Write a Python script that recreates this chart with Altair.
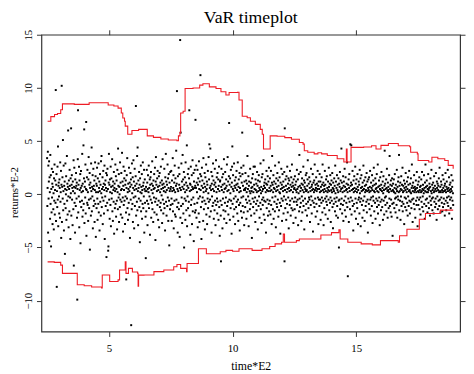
import altair as alt
import pandas as pd

TITLE = "VaR timeplot"
X_TITLE = "time*E2"
Y_TITLE = "returns*E-2"
X_TICKS = [5, 10, 15]
Y_TICKS = [-10, -5, 0, 5, 10, 15]
X_DOMAIN = [2.27, 19.2]
Y_DOMAIN = [-12.9, 15.0]

# time index of the returns (time*E2), one observation per step
TIME_START = 2.5
TIME_STEP = 0.01

# returns*E-2, read segment by segment (one list per unit of time*E2)
R_02 = [3.4, -1.1, 0.6, 4.0, -3.6, 2.7, -0.4, 1.2, 3.1, -4.4,
        1.6, 0.2, -2.3, 3.7, -0.9, 1.8, -4.9, 0.5, -1.7, 2.4,
        -0.3, 1.0, -2.8, 0.7, 2.1, -1.4, 0.1, -3.3, 1.5, -0.6,
        2.8, -1.9, 0.4, 1.3, -0.8, 9.8, -2.5, 0.9, 1.9, -8.7,
        0.3, -1.2, 2.6, -0.5, 4.5, -3.0, 0.8, 1.1, -0.2, -1.8,
        1.4, 0.6, -2.2, 3.0, -0.7, 0.2, 2.2, -4.1, 0.9, 10.2,
        -2.6, 0.7, 1.6, -0.4, 5.1, -1.5, 0.3, 2.7, -3.4, 0.8,
        -0.9, 1.2, -5.6, 0.5, 2.9, -1.3, 0.0, 1.7, -2.4, 0.4,
        3.6, -0.6, 1.0, -1.9, 0.7, 6.0, -0.2, -3.1, 1.3, 0.5,
        -1.6, 2.3, 0.8, -0.3, -4.2, 1.5, 0.1, 6.2, -2.0, 0.9]
R_03 = [1.8, -0.5, 0.6, -2.9, 1.2, 0.3, -1.4, 3.2, -6.7, 0.7,
        2.5, -0.8, 0.1, -3.6, 1.4, 0.6, -1.1, 2.0, 0.8, -0.4,
        1.1, -2.2, -9.9, 0.5, 3.3, 7.9, -1.7, 0.9, -0.2, 2.6,
        -3.1, 1.3, 0.4, -0.7, 1.9, -4.6, 0.6, 2.2, -1.2, 0.2,
        0.8, -0.6, 3.8, -2.1, 1.0, 0.3, -1.5, 4.6, -0.9, 1.5,
        6.1, -2.7, 0.7, 1.2, -0.3, 2.8, -1.8, 0.5, 6.8, -3.9,
        0.4, 1.6, -0.8, 2.3, -1.0, 0.2, -2.5, 1.4, 3.5, -0.5,
        -1.3, 0.9, 2.0, -5.2, 0.6, 1.1, -0.4, -2.0, 2.9, 0.3,
        4.4, -1.6, 0.7, -0.2, 1.8, -3.2, 0.5, 2.4, -1.1, 0.8,
        -0.6, 1.3, -2.6, 0.4, 3.0, -0.9, 1.7, -4.0, 0.2, 1.0]
R_04 = [-1.3, 0.8, 2.5, -0.4, -2.4, 1.5, 0.2, -0.9, 2.9, -1.7,
        0.6, 1.2, -3.4, 0.3, 1.9, -0.7, 0.9, -2.0, 3.1, 0.1,
        3.6, -1.2, 0.5, -0.3, 1.6, -2.8, 0.7, 2.2, -0.6, 1.0,
        -1.8, 0.4, 2.7, -4.2, 0.9, -0.2, 1.3, -1.1, 0.6, 2.0,
        -5.9, 0.3, 1.8, -0.8, 2.4, -1.5, 0.5, -5.3, -4.9, 1.1,
        3.8, -0.5, 0.9, -2.3, 1.4, 0.2, -1.0, 2.6, -3.0, 0.7,
        1.5, -0.4, 0.1, 3.3, -1.6, 0.8, -2.5, 1.2, 0.4, -0.7,
        2.1, -3.7, 0.6, 1.0, -1.3, 0.3, 2.8, -0.9, 1.7, -2.1,
        0.5, 1.3, -0.6, -3.3, 2.3, 0.2, -1.4, 4.3, 0.8, -0.3,
        1.9, -2.6, 0.7, 0.0, -1.2, 3.0, -0.5, 1.1, -1.9, 0.4]
R_05 = [2.0, -0.7, 0.5, 3.9, -2.2, 1.2, -0.3, -3.5, 0.8, 2.6,
        -1.0, 0.4, 1.5, -0.6, 2.2, -2.8, 0.9, -0.2, 1.3, -1.7,
        -8.0, 0.6, 1.8, -0.4, 3.4, -1.3, 0.2, -2.4, 1.0, 0.5,
        -0.8, 2.5, -1.9, 0.3, 1.1, -4.1, 0.7, 2.0, -0.5, 1.4,
        -12.3, 0.9, -1.4, 2.9, 0.1, -0.9, 1.6, -2.6, 0.6, 3.2,
        -0.3, 1.2, -3.2, 0.4, 2.4, -1.1, 0.8, -0.2, 1.7, 8.3,
        -2.0, 0.5, 1.0, -0.7, 3.6, -1.5, 4.4, 0.3, -2.9, 1.3,
        0.6, -0.4, 2.1, -1.2, 0.9, -4.5, 1.5, 0.2, -0.6, 2.7,
        -1.6, 0.7, 0.1, 1.9, -2.3, 0.4, -0.9, 3.0, 0.8, -1.3,
        1.1, -0.2, 2.3, -3.6, 0.5, 1.4, -0.8, 0.3, -2.1, -6.0]
R_06 = [0.7, -1.6, 0.3, 2.3, -0.6, 1.1, -2.9, 0.5, 1.8, -0.9,
        0.2, 2.7, -1.3, 0.6, -0.2, 1.4, -3.8, 0.9, 1.6, -0.5,
        2.1, -2.2, 0.4, 1.0, -0.8, 3.1, -1.4, 0.1, 0.8, -2.6,
        1.3, 0.5, -0.3, 1.9, -1.7, 0.6, 2.5, -0.7, -4.3, 1.2,
        3.5, -0.4, 0.9, -1.9, 0.3, 1.5, -1.0, 2.2, 0.7, -2.4,
        0.4, -0.6, 1.7, -3.1, 0.8, 2.0, -1.2, 0.2, 1.1, -0.8,
        2.6, -1.5, 0.5, -0.1, 1.3, -2.7, 0.9, 3.3, -0.5, 0.6,
        -1.8, 1.0, 0.3, -0.9, 2.4, -1.3, 0.7, -3.4, 1.6, 0.2,
        3.8, -0.7, 1.2, -2.0, 0.4, 0.9, -1.1, 2.8, -0.3, 1.5,
        -2.5, 0.6, 1.9, -0.6, -4.8, 1.1, 0.3, -1.4, 2.1, 0.5]
R_07 = [-1.0, 0.7, 2.2, -0.4, -2.5, 1.3, 0.3, -0.9, 3.4, -1.6,
        0.6, 1.8, -3.2, 0.4, 1.1, -0.6, 2.7, -1.9, 0.2, 1.5,
        -2.1, 0.8, 4.1, -0.5, 1.0, 9.7, -1.2, 0.5, -3.6, 1.7,
        0.3, -0.8, 2.5, -1.4, 0.9, 1.9, -4.0, 0.6, 14.5, -2.2,
        5.8, 0.4, -1.1, 2.9, -0.3, 1.2, -2.7, 0.7, 3.7, -0.9,
        1.4, -1.8, 0.5, 2.1, -5.0, 0.9, -0.4, 1.6, 0.2, -2.4,
        3.0, -0.6, 1.1, -1.5, 0.4, 4.6, -3.0, 0.8, -0.2, 1.9,
        -1.3, 0.6, 2.4, -0.7, 1.5, 7.9, -2.0, 0.3, 1.0, -3.8,
        0.9, 2.6, -1.0, 0.4, -0.5, 1.8, -2.8, 0.7, 3.2, -1.6,
        0.5, -0.3, 2.0, -4.4, 1.2, 0.6, -0.9, 2.3, -1.7, 0.8]
R_08 = [7.0, -1.5, 0.6, 2.7, -2.2, 1.1, 0.2, -0.8, 2.3, -3.1,
        0.9, 1.5, -0.4, -1.8, 3.1, 0.5, -2.6, 1.2, -0.2, 1.9,
        11.2, 0.4, -1.2, 1.7, -4.2, 0.8, 2.5, -0.7, 1.3, -0.3,
        0.6, -2.5, 3.4, 0.2, -1.4, 1.0, -0.6, 2.0, -3.3, 0.7,
        1.6, -0.9, 0.3, 2.8, -1.9, 0.5, 1.2, -2.8, 0.9, -0.4,
        2.2, -1.3, 0.1, 3.5, -0.7, 1.4, 4.7, -2.1, 0.6, -0.5,
        4.3, 0.8, -1.6, 0.4, 2.1, -3.6, 1.0, -0.2, 1.7, -1.1,
        0.5, 2.9, -0.8, 1.3, -2.3, 0.3, 0.9, -1.5, 2.4, -0.6,
        1.1, -2.9, 0.7, 3.2, -1.0, 0.2, 1.6, -0.4, -1.8, 2.0,
        -0.7, 0.5, 1.4, -2.4, 0.8, 2.6, -1.2, 0.3, -3.9, 1.2]
R_09 = [1.3, -0.6, -2.0, -6.3, 0.7, 2.4, -1.0, 0.4, 1.6, -3.2,
        0.9, -0.4, 1.9, -1.5, 0.2, 3.3, -2.3, 1.0, 0.5, -0.8,
        2.1, -1.6, 0.6, -0.3, 1.4, -2.7, 0.8, 2.8, -1.1, 0.3,
        3.5, -0.7, 1.2, -1.9, 0.4, 1.7, 6.7, -0.5, 0.9, -2.4,
        1.5, 0.1, -1.3, 2.3, -0.6, 0.7, -3.7, 1.1, 2.6, 4.5,
        -0.9, 0.5, 1.8, -2.1, 0.3, -0.4, 2.9, -1.4, 0.8, 1.3,
        -2.8, 0.6, -0.2, 1.6, -1.2, 0.9, 2.2, -0.7, 0.4, -1.8,
        1.0, 3.0, -0.5, -2.5, 0.7, 1.4, -1.0, 0.2, 2.0, -3.4,
        0.6, -0.8, 1.7, 0.3, -1.6, 2.5, -0.3, 1.1, -2.2, 5.8,
        1.9, -1.1, 0.8, -0.2, 2.7, -1.7, 0.4, -2.9, 1.2, 0.5]
R_10 = [0.4, -1.2, 2.0, 0.6, -0.5, 1.3, -2.3, 0.2, 1.0, -0.8,
        3.6, -1.6, 0.5, -0.2, 1.7, -3.0, 0.8, 1.2, -0.6, 0.3,
        -1.4, 2.4, 0.1, -0.9, 1.1, -2.0, 0.6, 0.3, -4.1, 1.5,
        0.7, -0.4, 1.9, -1.2, 0.2, 2.6, -0.7, 0.9, -1.8, 0.5,
        2.6, -0.3, -2.6, 1.4, 0.4, -0.9, 1.0, -1.5, 0.2, 2.1,
        -0.6, 0.8, -3.3, 1.3, 0.3, -1.1, 1.8, -0.2, 0.6, -2.2,
        1.2, 0.4, -0.8, 2.9, -1.4, 0.1, 0.7, -2.7, 1.6, -0.5,
        0.3, 1.9, -1.0, 0.5, -0.3, 3.2, -1.9, 0.8, -0.6, 1.1,
        -2.4, 0.6, 1.4, -0.7, 0.2, -3.6, 1.0, 2.2, -1.3, 0.4,
        0.9, -0.5, 1.7, -2.0, 0.3, 1.2, -0.9, 2.5, -1.6, 0.6]
R_11 = [-0.6, 1.5, 0.3, -1.9, 0.8, 2.2, -1.0, 0.4, -2.8, 1.1,
        3.6, -0.3, 0.9, -1.4, 0.2, 1.8, -2.3, 0.6, 1.2, -0.7,
        0.5, -1.6, 2.7, -0.2, 1.0, -3.1, 0.3, 1.5, -0.9, 0.7,
        -1.2, 2.0, 0.4, -0.5, 1.3, -2.1, 0.8, 3.0, -1.5, 0.2,
        1.6, -0.8, 0.1, -3.7, 1.1, 0.5, -1.1, 2.4, -0.4, 0.9,
        -2.5, 0.6, 1.9, -0.6, 0.3, 1.2, -1.8, 0.7, -0.2, 2.1,
        -6.3, 6.2, 0.4, -1.3, 1.4, -0.5, 0.8, -2.4, 1.7, 0.2,
        -0.9, 2.6, 0.5, -1.7, 1.0, -0.3, 1.5, -3.2, 0.6, 1.3,
        0.3, -1.0, 2.2, -0.6, 0.9, -2.0, 0.4, 1.6, -1.3, 0.7,
        2.8, -0.4, 1.1, -1.5, 0.2, 0.8, -2.7, 1.4, -0.7, 0.5]
R_12 = [0.6, -1.4, 1.7, -0.3, 0.9, -2.2, 0.4, 1.2, -0.7, 0.2,
        2.3, -1.0, 0.5, -0.5, 1.4, -2.9, 0.7, 0.1, 1.9, -1.6,
        3.7, -0.4, 0.8, -1.2, 0.3, 2.1, -0.8, 0.6, -2.5, 1.0,
        -0.2, 1.5, -1.7, 0.4, 0.9, -0.6, 2.6, -1.1, 0.2, 1.3,
        -3.3, 0.7, 1.1, -0.4, 0.5, -1.5, 1.8, 0.3, -0.9, 2.0,
        0.4, -2.0, 0.8, 1.4, 3.2, -0.7, 0.2, -1.3, 1.0, -0.3,
        1.6, -0.5, 0.6, -2.6, 1.2, 0.3, -1.0, 2.4, -0.2, 0.7,
        -1.8, 0.9, 0.4, -0.6, 1.9, -3.5, 0.5, 1.1, -0.8, 0.2,
        1.3, -1.2, 2.8, 0.4, -0.4, 0.9, -2.1, 0.6, 1.6, -0.9,
        0.3, 1.0, -1.6, 0.5, 2.2, -0.3, 0.8, -2.8, 1.2, -0.5]
R_13 = [0.5, -1.1, 1.9, 0.2, -0.5, 1.2, -2.4, 0.7, 0.3, -0.8,
        1.6, -0.3, 0.9, -1.7, 2.8, 0.4, -0.6, 1.1, -2.9, 0.2,
        0.8, -1.3, 0.5, 2.2, -0.4, 0.9, -1.9, 0.3, 1.4, -0.7,
        -0.2, 1.7, -1.0, 0.6, 0.2, -2.3, 1.2, 0.4, -0.5, 2.5,
        0.7, -1.5, 0.3, 1.0, -0.8, 1.8, -0.3, -2.6, 0.9, 0.4,
        1.3, -0.6, 0.2, 2.0, -1.2, 0.6, -3.2, 1.1, 0.5, -0.9,
        0.3, 1.5, -0.4, 0.8, -1.6, 2.7, 0.1, -0.7, 1.2, -2.0,
        0.6, -0.3, 1.8, -1.1, 0.4, 0.9, -2.2, 0.2, 1.5, -0.6,
        -5.0, 1.0, -0.5, 0.7, 2.1, -1.4, 0.3, 1.3, -0.9, 0.5,
        4.3, -0.4, 1.1, -1.8, 0.6, 0.2, -1.0, 1.7, -2.5, 0.8]
R_14 = [1.2, -0.6, 0.3, 2.4, -1.5, 0.7, -0.2, 1.6, -2.1, 0.4,
        -0.8, 1.0, 0.5, 3.0, -1.2, 0.2, -7.7, 0.9, -0.4, 1.4,
        -2.6, 0.6, 1.9, -0.7, 0.3, -1.4, 4.7, 0.8, -0.3, 1.1,
        4.6, -1.9, 0.4, 0.9, -0.6, 2.2, -1.1, 0.5, -3.4, 1.3,
        0.2, -0.9, 1.7, 0.6, -1.6, 0.3, 2.6, -0.4, 1.0, -2.3,
        0.5, 1.4, -0.8, 0.2, -1.3, 1.9, 0.7, -2.8, 0.4, -0.5,
        1.2, -0.3, 0.9, -1.8, 2.3, 0.1, -0.7, 1.5, -3.0, 0.6,
        -0.4, 1.8, 0.3, -1.0, 0.7, -2.2, 1.1, 0.4, -0.6, 2.7,
        -1.5, 0.5, 1.3, -0.2, -2.5, 0.8, 0.2, 1.6, -1.1, 0.4,
        0.9, -0.7, 2.0, -1.7, 0.3, 1.2, -0.5, -3.6, 0.6, 1.4]
R_15 = [0.4, -0.9, 1.6, 0.2, -1.4, 0.7, 2.2, -0.5, 0.3, -2.0,
        1.1, -0.3, 0.6, -1.1, 1.8, 0.4, -2.7, 0.8, -0.2, 1.3,
        -0.6, 2.5, 0.3, -1.6, 0.9, 0.2, -0.8, 1.5, -2.3, 0.5,
        1.0, -0.4, 0.6, 1.9, -1.2, 0.3, -0.6, 2.8, -1.8, 0.7,
        0.2, -1.0, 1.3, -0.3, 0.8, -2.9, 0.5, 1.6, -0.7, 0.4,
        -1.5, 0.9, 2.1, -0.5, 0.3, -1.2, 0.6, 1.2, -2.4, 0.1,
        1.7, -0.6, 0.4, -1.9, 0.8, 4.1, -0.3, 1.0, -1.0, 0.5,
        -0.2, 1.4, -1.6, 0.6, 2.4, -0.8, 0.3, -2.2, 1.1, 0.4,
        0.7, -1.3, 0.2, 1.8, -0.4, 3.6, -1.1, 0.5, 0.9, -1.7,
        1.3, -0.5, 0.3, -2.1, 0.8, 1.5, -0.9, -3.9, 0.4, 1.0]
R_16 = [0.3, -0.8, 1.4, 0.2, -1.3, 0.6, 1.9, -0.4, 0.1, -1.7,
        0.9, -0.3, 0.5, -1.0, 2.3, 0.3, -2.2, 0.7, -0.2, 1.2,
        -0.5, 1.6, 0.2, 3.7, -1.5, 0.8, 0.3, -0.6, 1.1, -2.4,
        0.5, -0.2, 1.7, -1.1, 0.4, 0.9, -0.7, 2.5, -1.6, 0.2,
        0.8, -0.9, 0.3, 1.3, -2.8, 0.6, -0.3, 1.0, -1.2, 0.4,
        2.0, -0.4, 0.7, -1.5, 0.2, 1.2, -0.8, 0.5, -2.0, 1.6,
        -0.2, 0.9, -1.1, 0.3, 2.2, -0.6, 0.4, -1.8, 1.0, 0.2,
        -0.7, 1.5, 0.1, -1.3, 0.6, 2.8, -0.5, 0.8, -2.6, 0.3,
        1.1, -0.4, 0.6, -0.9, 1.8, 0.2, -1.4, 0.7, 0.4, -2.2,
        0.5, 1.3, -0.6, 0.2, -1.0, 2.1, 0.6, -0.3, -3.0, 0.9]
R_17 = [0.3, -1.0, 1.2, 0.2, -0.5, 1.6, -1.4, 0.4, 0.7, -0.3,
        -1.9, 0.8, 0.2, 1.4, -0.7, 0.3, 2.1, -1.2, 0.5, -0.2,
        0.9, -1.6, 0.4, 0.1, 1.8, -0.9, 0.6, -2.3, 1.1, 0.3,
        2.8, -0.5, 0.7, -1.1, 0.2, 1.3, -0.4, 0.8, -1.7, 0.5,
        0.2, 1.9, -0.8, 0.4, -1.3, 0.6, 1.0, -0.2, -2.0, 0.7,
        1.5, -0.6, 0.3, -1.0, 2.3, 0.1, -0.4, 0.9, -1.5, 0.4,
        -0.3, 1.1, 0.6, -1.8, 0.2, 1.7, -0.7, 0.3, 0.8, -1.2,
        0.5, -0.4, 2.0, -0.9, 0.3, -2.4, 1.2, 0.6, -0.2, 1.0,
        -1.4, 0.4, 0.8, -0.6, 1.5, 0.2, -1.1, 2.5, -0.5, 0.3,
        0.7, -1.7, 0.2, 1.2, -0.3, 0.9, -0.8, 0.4, -1.6, 1.8]
R_18 = [0.2, -1.2, 0.6, 1.4, -0.4, 0.3, -0.9, 0.8, -2.0, 1.0,
        0.4, 2.0, -0.6, 0.2, -1.5, 0.7, 1.2, -0.3, 0.5, -0.8,
        2.3, 0.3, -1.1, 0.6, -0.2, 1.6, -1.8, 0.4, 0.9, -0.5,
        0.2, 1.1, -1.3, 0.5, -0.3, 1.8, 0.3, -2.3, 0.7, -0.6,
        1.3, 0.1, -1.0]

# upper VaR limit (step line): breakpoints
UPPER_T = [2.52, 2.65, 2.8, 2.92, 3.05, 3.12, 3.6, 4.2, 4.84, 4.97, 5.2, 5.37, 5.5, 5.56, 5.63, 5.66, 5.76, 5.93, 6.2, 6.42, 6.55, 6.8, 7.1, 7.4, 7.75, 7.81, 7.87, 7.9, 8.0, 8.08, 8.4, 8.67, 8.8, 9.06, 9.33, 9.53, 9.73, 9.86, 10.2, 10.26, 10.39, 10.59, 10.72, 10.92, 11.12, 11.2, 11.25, 11.52, 11.8, 12.11, 12.38, 12.7, 12.85, 12.9, 13.04, 13.3, 13.45, 13.6, 13.83, 14.23, 14.5, 14.6, 14.63, 14.79, 15.03, 15.3, 15.62, 15.8, 16.0, 16.3, 16.7, 17.16, 17.2, 17.47, 17.5, 17.93, 18.06, 18.3, 18.58, 18.72, 18.92]
UPPER_V = [6.87, 7.3, 7.5, 7.6, 7.95, 8.5, 8.45, 8.6, 8.6, 8.4, 8.3, 8.1, 7.64, 7.18, 6.87, 6.41, 5.64, 6.0, 6.1, 6.1, 5.49, 5.35, 5.2, 5.1, 5.03, 5.49, 5.8, 7.64, 7.8, 9.94, 10.0, 10.26, 10.4, 10.1, 9.94, 9.64, 9.33, 9.57, 9.6, 8.87, 7.33, 7.2, 6.87, 6.57, 6.1, 5.64, 4.26, 5.49, 5.45, 5.33, 5.18, 4.87, 4.72, 4.1, 3.95, 3.8, 3.9, 3.8, 3.64, 3.34, 3.03, 4.26, 3.03, 4.41, 4.41, 4.45, 4.57, 4.26, 4.6, 4.78, 4.57, 4.47, 3.95, 3.8, 3.18, 3.03, 3.49, 3.35, 3.18, 2.72, 2.41]

# lower VaR limit (step line): breakpoints
LOWER_T = [2.52, 2.79, 3.05, 3.12, 3.65, 3.72, 4.0, 4.3, 4.7, 4.73, 5.01, 5.03, 5.37, 5.43, 5.63, 5.66, 5.69, 5.79, 5.95, 6.16, 6.18, 6.2, 6.42, 6.82, 7.22, 7.62, 7.75, 7.9, 8.14, 8.16, 8.6, 8.62, 8.94, 9.2, 9.5, 9.73, 10.0, 10.26, 10.79, 11.19, 11.5, 11.72, 11.98, 12.05, 12.1, 12.58, 12.7, 13.17, 13.57, 14.0, 14.3, 14.35, 14.66, 15.2, 15.65, 15.98, 16.4, 16.7, 16.75, 17.05, 17.5, 17.55, 17.8, 18.4, 18.92]
LOWER_V = [-6.35, -6.4, -6.66, -7.43, -7.43, -8.5, -8.6, -8.72, -8.8, -7.58, -7.58, -8.2, -8.04, -7.12, -7.12, -6.35, -7.43, -6.96, -7.3, -7.43, -8.65, -7.6, -7.58, -7.27, -7.12, -6.81, -6.6, -6.96, -7.27, -6.5, -6.5, -5.12, -5.58, -5.58, -5.4, -5.27, -5.35, -5.12, -5.27, -5.12, -4.9, -4.66, -4.5, -3.74, -4.5, -4.35, -4.2, -4.2, -3.83, -3.6, -3.34, -4.2, -4.5, -4.66, -4.75, -4.35, -4.35, -4.5, -3.9, -3.28, -3.28, -2.35, -1.8, -1.49, -1.49]

returns = (R_02 + R_03 + R_04 + R_05 + R_06 + R_07 + R_08 + R_09 + R_10 + R_11
           + R_12 + R_13 + R_14 + R_15 + R_16 + R_17 + R_18)
times = [round(TIME_START + i * TIME_STEP, 4) for i in range(len(returns))]
pts = pd.DataFrame({"t": times, "r": returns})

var_df = pd.concat([
    pd.DataFrame({"t": UPPER_T, "v": UPPER_V, "band": "upper"}),
    pd.DataFrame({"t": LOWER_T, "v": LOWER_V, "band": "lower"}),
])

FONT = "Liberation Serif"
xs = alt.Scale(domain=X_DOMAIN, nice=False, zero=False)
ys = alt.Scale(domain=Y_DOMAIN, nice=False, zero=False)

points = alt.Chart(pts).mark_square(size=4, color="black", opacity=1).encode(
    x=alt.X("t:Q", scale=xs, axis=alt.Axis(
        orient="bottom", values=X_TICKS, title=X_TITLE, grid=False, domain=False,
        tickSize=5, tickColor="#333", labelFont=FONT, labelFontSize=11, labelPadding=6,
        labelColor="black", titleFont=FONT, titleColor="black",
        titleFontSize=12, titlePadding=8, titleFontWeight="normal")),
    y=alt.Y("r:Q", scale=ys, axis=alt.Axis(
        orient="left", values=Y_TICKS, title=Y_TITLE, grid=False, domain=False,
        tickSize=5, tickColor="#333", labelFont=FONT, labelFontSize=11, labelAngle=270,
        labelAlign="center", labelBaseline="bottom", labelPadding=3, labelColor="black",
        titleFont=FONT, titleColor="black", titleAngle=270, titleAlign="center",
        titleBaseline="middle", titleX=-27.5, titleY=160,
        titleFontSize=11, titleFontWeight="normal")),
)

lines = alt.Chart(var_df).mark_line(interpolate="step-after", color="#ee1c25", strokeWidth=1.1).encode(
    x=alt.X("t:Q", scale=xs, axis=alt.Axis(
        orient="top", values=X_TICKS, labels=False, title=None, grid=False,
        domain=False, tickSize=5, tickColor="#333")),
    y=alt.Y("v:Q", scale=ys, axis=alt.Axis(
        orient="right", values=Y_TICKS, labels=False, title=None, grid=False,
        domain=False, tickSize=5, tickColor="#333")),
    detail="band:N",
)

chart = alt.layer(points, lines).resolve_axis(x="independent", y="independent").properties(
    width=426, height=302,
    title=alt.TitleParams(TITLE, font=FONT, fontSize=18, fontWeight="normal", color="black", offset=2),
    autosize=alt.AutoSizeParams(type="none"),
    padding={"left": 34, "top": 24, "right": 6, "bottom": 40},
).configure_view(stroke="#333", strokeWidth=1.2)

chart.save("out.html", embed_options={"renderer": "svg", "actions": False})
